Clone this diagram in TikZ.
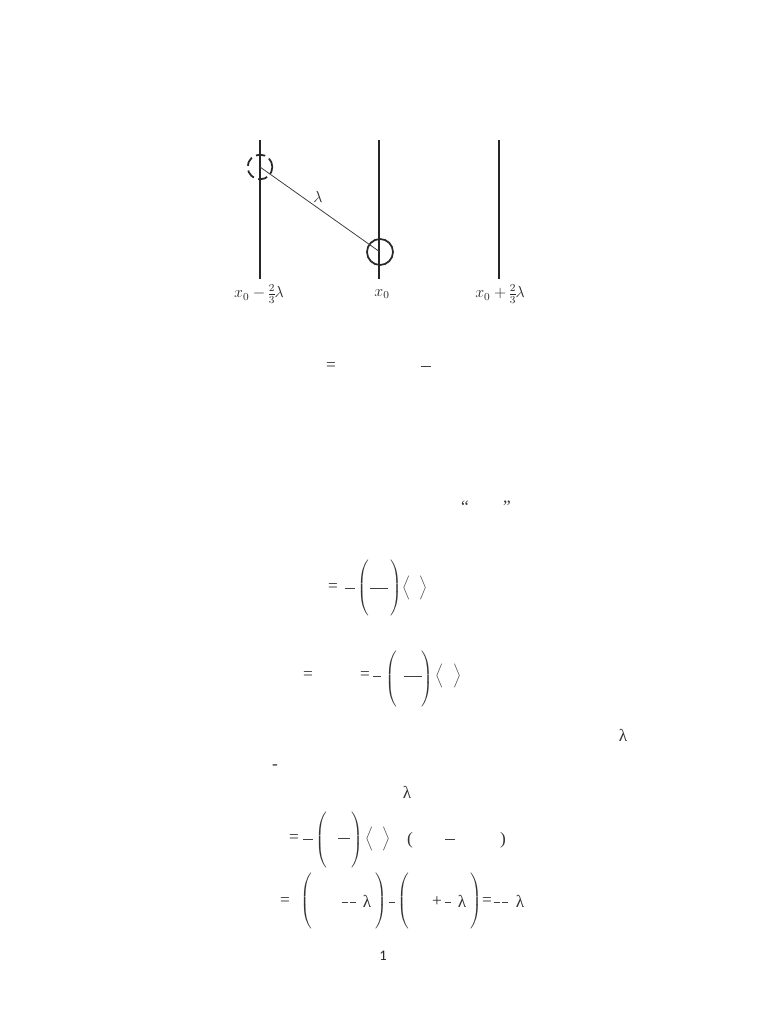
\documentclass[tikz,border=0pt]{standalone}
\usepackage{fontspec}
\setmainfont{Liberation Serif}
\newfontfamily\pgnumfont{Carlito}
\nulldelimiterspace=0pt
\newcommand{\bigparL}{$\left(\vrule height 17pt depth 17pt width 0pt\right.$}
\newcommand{\bigparR}{$\left.\vrule height 17pt depth 17pt width 0pt\right)$}
\newcommand{\bigparLL}{$\left(\vrule height 19pt depth 19pt width 0pt\right.$}
\newcommand{\bigparRR}{$\left.\vrule height 19pt depth 19pt width 0pt\right)$}
\begin{document}
\begin{tikzpicture}[x=0.75pt,y=-0.75pt,
  wire/.style={line width=2.2pt, black!85},
  glyph/.style={inner sep=0pt, text=black!80, font=\fontsize{13}{15}\selectfont},
  lbl/.style={inner sep=0pt, text=black!85, font=\fontsize{12}{14}\selectfont},
  ring/.style={circle, draw=black!85, line width=1.3pt, inner sep=0pt, minimum size=19.5pt},
  bar/.style={inner sep=0pt, text=black!75}]
\useasboundingbox[fill=white] (0,0) rectangle (768,1024);

% vertical lines
\coordinate (l1t) at (260,140); \coordinate (l1b) at (260,279);
\coordinate (l2t) at (379,140); \coordinate (l2b) at (379,279);
\coordinate (l3t) at (499,140); \coordinate (l3b) at (499,279);
\draw[wire] (l1t) -- (l1b);
\draw[wire] (l2t) -- (l2b);
\draw[wire] (l3t) -- (l3b);

% circles
\node[ring, dash pattern=on 7pt off 3.5pt, minimum size=18.5pt] (c1) at (260,167) {};
\node[ring] (c2) at (380,252) {};
\draw[line width=0.6pt, black!75] (c1.center) -- (c2.center);
\node[lbl] (lam) at (318,197) {$\lambda$};

% labels
\node[lbl] (x1) at (259,294) {$x_0-\frac{2}{3}\lambda$};
\node[lbl] (x2) at (382,294) {$x_0$};
\node[lbl] (x3) at (500,294) {$x_0+\frac{2}{3}\lambda$};

% line of "=" and "-"
\node[glyph] (a1) at (331,367) {=};
\node[bar]   (a2) at (426,366) {\rule{8pt}{0.7pt}};

% quotes
\node[glyph] (q1) at (465,507) {“};
\node[glyph] (q2) at (507,507) {”};

% equation 1
\node[glyph] (e1a) at (333,588) {=};
\node[bar]   (e1b) at (350,588) {\rule{7.5pt}{0.6pt}};
\node[glyph] (e1c) at (363,588) {\bigparL};
\node[bar]   (e1d) at (379,588) {\rule{13.5pt}{0.6pt}};
\node[glyph] (e1e) at (396,588) {\bigparR};
\node[glyph] (e1f) at (407,588) {$\Big\langle$};
\node[glyph] (e1g) at (424,588) {$\Big\rangle$};

% equation 2
\node[glyph] (e2a) at (308,676) {=};
\node[glyph] (e2b) at (365,676) {=};
\node[bar]   (e2c) at (377,676) {\rule{5.5pt}{0.6pt}};
\node[glyph] (e2d) at (391,680) {\bigparLL};
\node[bar]   (e2e) at (413,676) {\rule{13.5pt}{0.6pt}};
\node[glyph] (e2f) at (427,680) {\bigparRR};
\node[glyph] (e2g) at (440,676) {$\Big\langle$};
\node[glyph] (e2h) at (458,676) {$\Big\rangle$};

% scattered glyphs
\node[glyph] (s1) at (623,735) {λ};
\node[glyph] (s2) at (275,767) {-};
\node[glyph] (s3) at (407,792) {λ};

% equation 3
\node[glyph] (e3a) at (294,839) {=};
\node[bar]   (e3b) at (308,839) {\rule{7.5pt}{0.6pt}};
\node[glyph] (e3c) at (321,840) {\bigparL};
\node[bar]   (e3d) at (344,838) {\rule{9pt}{0.6pt}};
\node[glyph] (e3e) at (357,840) {\bigparR};
\node[glyph] (e3f) at (370,839) {$\Big\langle$};
\node[glyph] (e3g) at (387,839) {$\Big\rangle$};
\node[glyph] (e3h) at (410,840) {(};
\node[bar]   (e3i) at (450,839) {\rule{7.5pt}{0.6pt}};
\node[glyph] (e3j) at (503,840) {)};

% equation 4
\node[glyph] (e4a) at (285,902) {=};
\node[glyph] (e4b) at (306,901) {\bigparL};
\node[bar]   (e4c) at (345,902) {\rule{5pt}{0.6pt}};
\node[bar]   (e4d) at (353,902) {\rule{5pt}{0.6pt}};
\node[glyph] (e4e) at (367,901) {λ};
\node[glyph] (e4f) at (381,901) {\bigparR};
\node[bar]   (e4g) at (392,902) {\rule{5pt}{0.6pt}};
\node[glyph] (e4h) at (403,901) {\bigparL};
\node[glyph] (e4i) at (437,902) {+};
\node[bar]   (e4j) at (448,902) {\rule{5pt}{0.6pt}};
\node[glyph] (e4k) at (462,901) {λ};
\node[glyph] (e4l) at (476,901) {\bigparR};
\node[glyph] (e4m) at (487,902) {=};
\node[bar]   (e4n) at (497,902) {\rule{5pt}{0.6pt}};
\node[bar]   (e4o) at (505,902) {\rule{5pt}{0.6pt}};
\node[glyph] (e4p) at (520,901) {λ};

% page number
\node[inner sep=0pt, font=\pgnumfont\fontsize{11}{13}\selectfont, text=black!85] (pg) at (383,956) {1};
\end{tikzpicture}
\end{document}
